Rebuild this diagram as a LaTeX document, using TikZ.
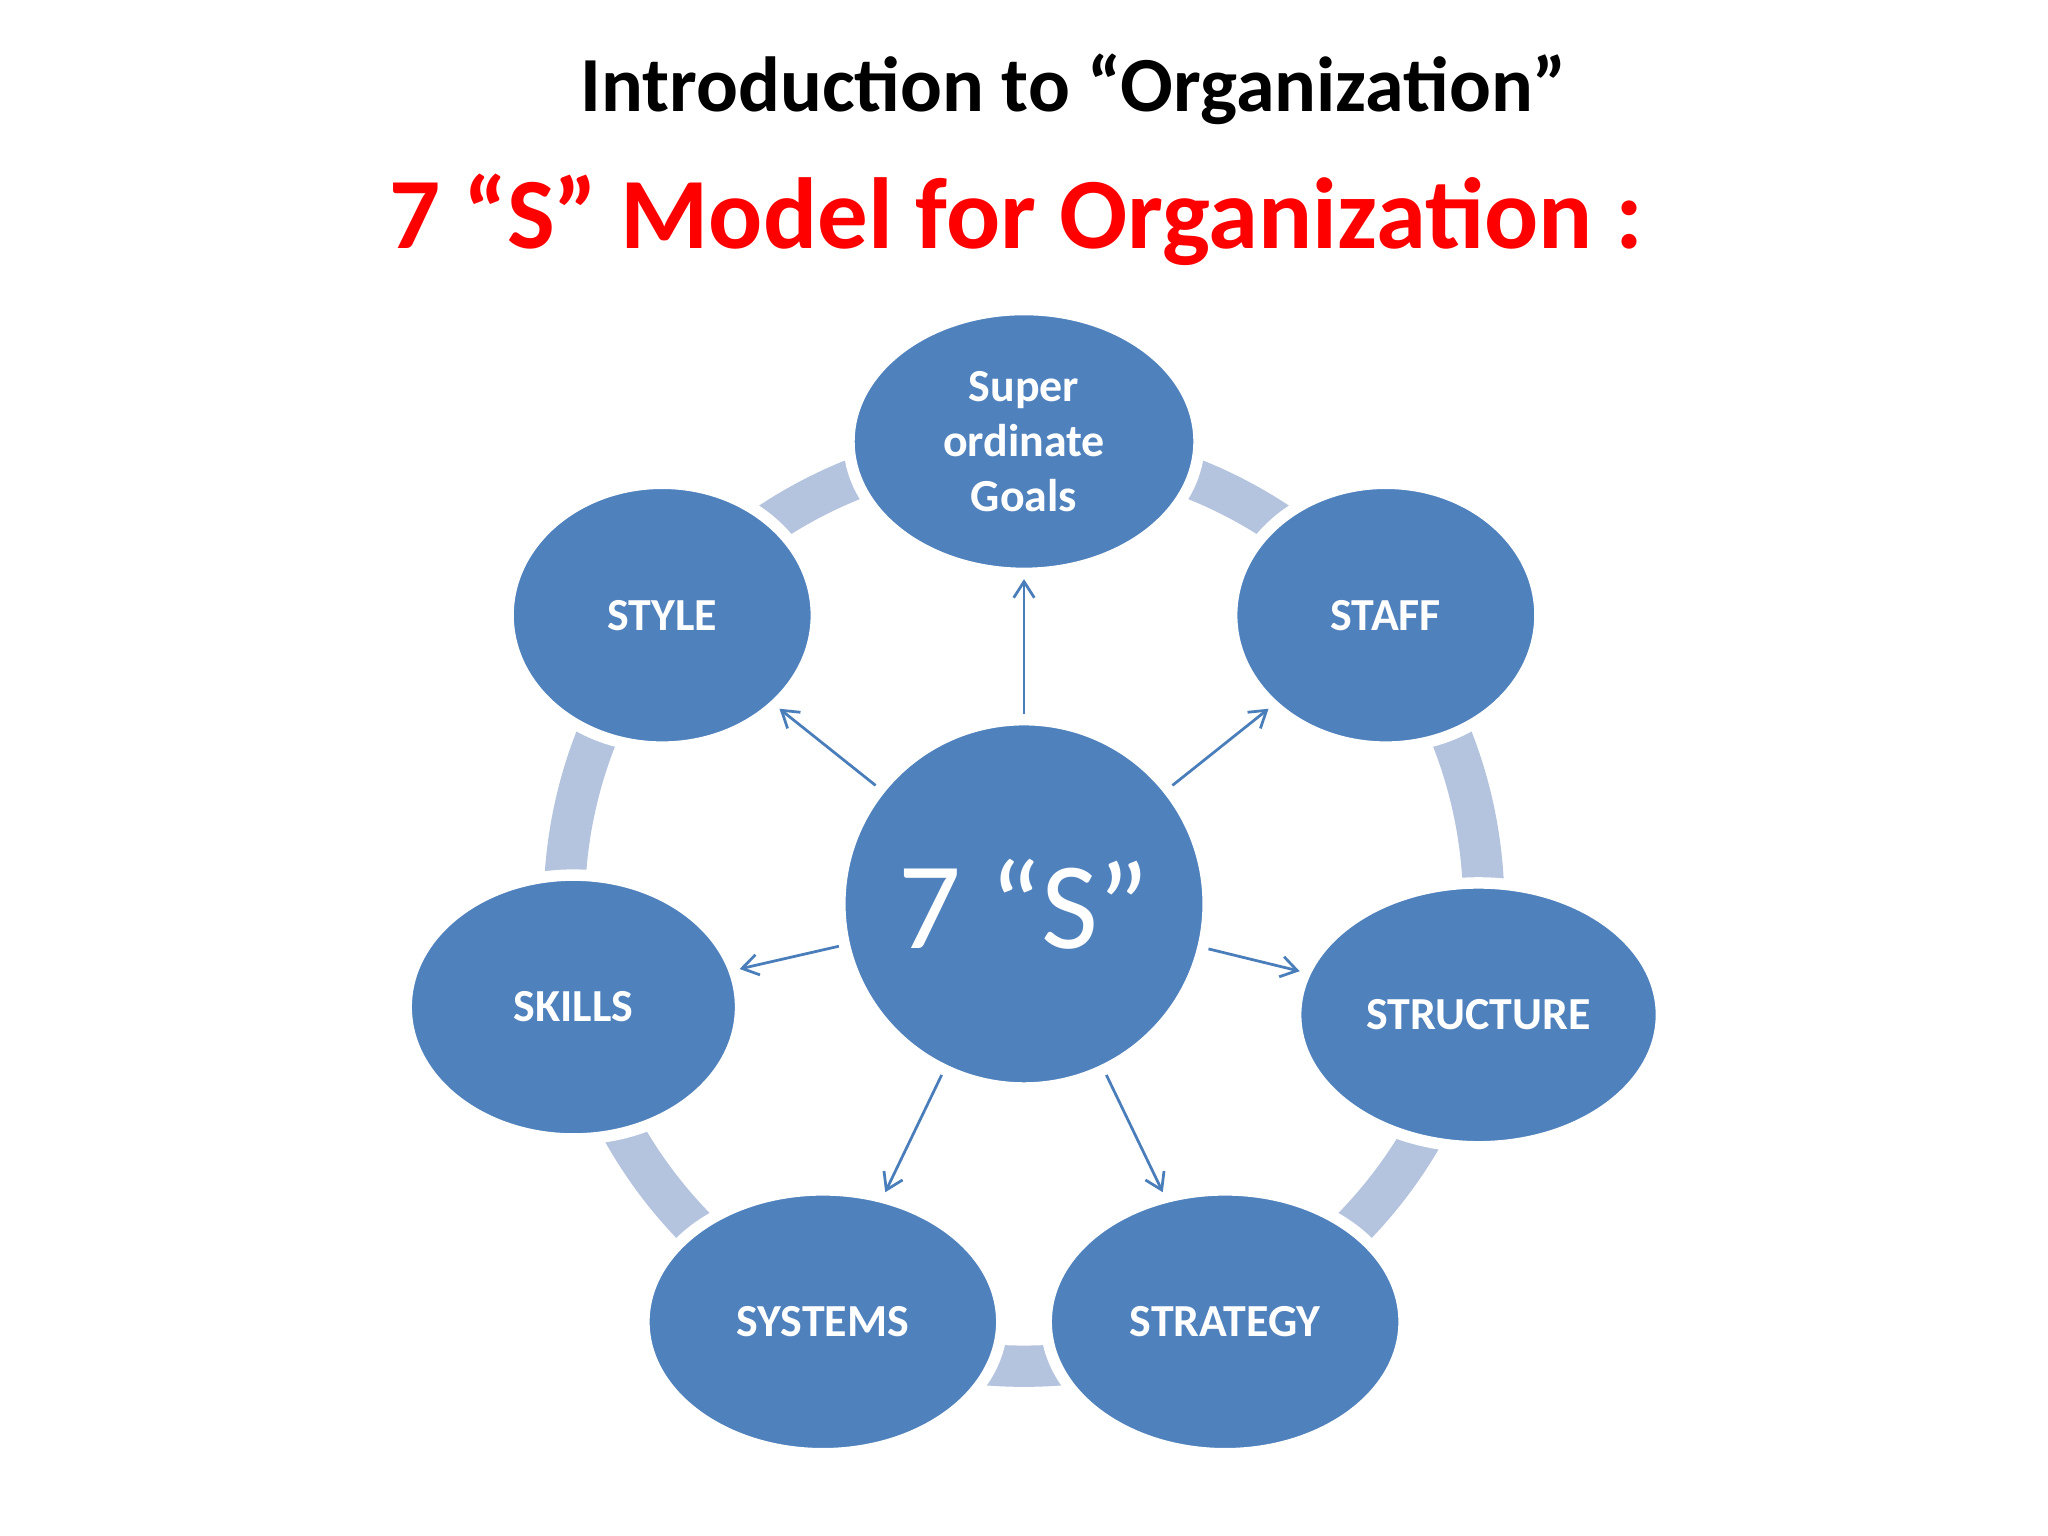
\documentclass[tikz,border=0pt]{standalone}
\usepackage{fontspec}
\setmainfont{Carlito}
\usetikzlibrary{arrows.meta,shapes.geometric}
\definecolor{sblue}{HTML}{4F81BD}
\definecolor{ring}{HTML}{B4C3DE}
\definecolor{lblue}{HTML}{4A7EBB}
\begin{document}
\begin{tikzpicture}[x=0.02cm,y=-0.02cm,
  ell/.style={ellipse,fill=sblue,draw=white,line width=5pt,text=white,font=\fontsize{20}{24}\selectfont\bfseries,align=center,inner sep=0pt},
  arr/.style={draw=lblue,line width=1.2pt,-{Straight Barb[length=7pt,width=9pt]}}]
\useasboundingbox (0,0) rectangle (1568,1176);
\fill[white] (0,0) rectangle (1568,1176);
\node[font=\fontsize{34}{40}\selectfont\bfseries] (t1) at (822,68) {Introduction to “Organization”};
\node[font=\fontsize{44}{52}\selectfont\bfseries,text=red] (t2) at (778,168) {7 “S” Model for Organization :};
\draw[ring,line width=18pt] (784,694) circle[radius=352*0.02cm];
\node[ell,minimum width=268*0.02cm,minimum height=202*0.02cm] (g) at (784,338) {Super\\ordinate\\Goals};
\node[ell,minimum width=236*0.02cm,minimum height=202*0.02cm] (sty) at (507,471) {STYLE};
\node[ell,minimum width=236*0.02cm,minimum height=202*0.02cm] (sta) at (1061,471) {STAFF};
\node[ell,minimum width=256*0.02cm,minimum height=202*0.02cm] (ski) at (439,771) {SKILLS};
\node[ell,minimum width=280*0.02cm,minimum height=202*0.02cm] (str) at (1132,777) {STRUCTURE};
\node[ell,minimum width=274*0.02cm,minimum height=202*0.02cm] (sys) at (630,1012) {SYSTEMS};
\node[ell,minimum width=274*0.02cm,minimum height=202*0.02cm] (stg) at (938,1012) {STRATEGY};
\node[circle,fill=sblue,draw=white,line width=5pt,text=white,minimum size=282*0.02cm,font=\fontsize{54}{60}\selectfont] (c) at (784,692) {7 “S”};
\foreach \t in {g,sty,sta,ski,str,sys,stg} \draw[arr] (c) -- (\t);
\end{tikzpicture}
\end{document}
